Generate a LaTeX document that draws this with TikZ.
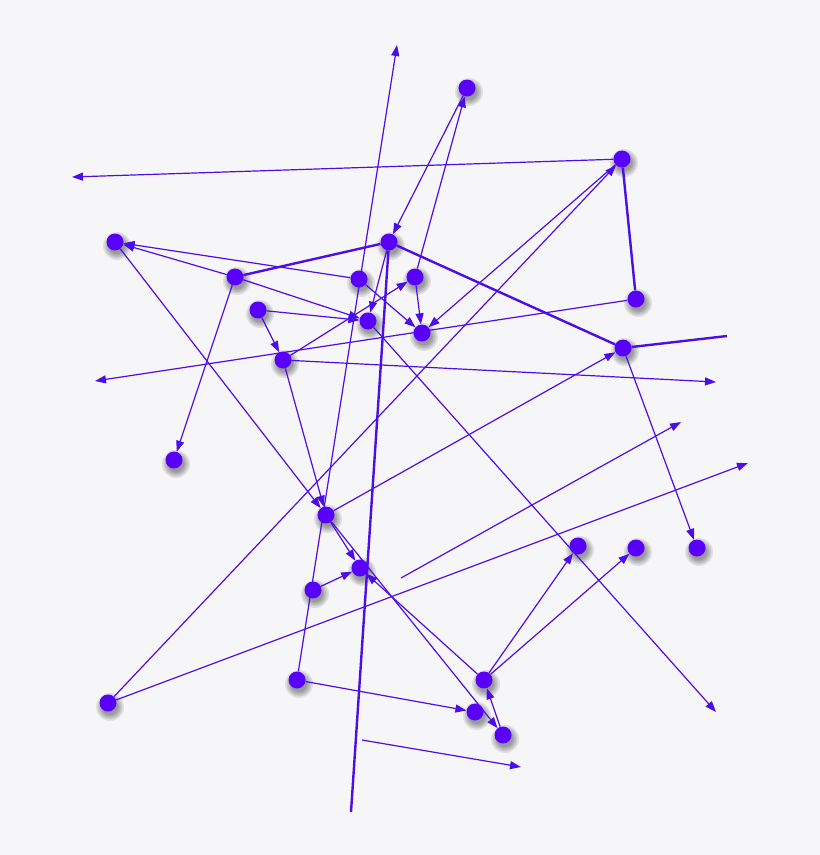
\documentclass[tikz,border=0pt]{standalone}
\usetikzlibrary{arrows.meta}
\definecolor{dotblue}{RGB}{88,0,250}
\definecolor{lineblue}{RGB}{76,14,232}
\definecolor{paper}{RGB}{246,246,248}
\pgfdeclarelayer{paperlayer}
\pgfdeclarelayer{shadowlayer}
\pgfdeclarelayer{edgelayer}
\pgfsetlayers{paperlayer,shadowlayer,edgelayer,main}
\begin{document}
\begin{tikzpicture}[x=1pt, y=-1pt, % pixel grid, y downwards
  dot/.style={circle, fill=dotblue, inner sep=0pt, minimum size=17pt},
  halo/.style={fill=black, opacity=0.085},
  link/.style={draw=lineblue, line width=1.2pt, -{Triangle[length=11pt, width=8pt]}},
  bar/.style={draw=lineblue, line width=2.4pt}]
  \begin{pgfonlayer}{paperlayer}
    \fill[paper] (0,0) rectangle (820,855);
  \end{pgfonlayer}
  \useasboundingbox (0,0) rectangle (820,855);

  % Dots, each with a soft shadow down-right
  \foreach \N/\X/\Y in {a/467/88, b/622/159, c/115/242, d/389/242, e/235/277,
      f/359/279, g/415/277, h/636/299, i/258/310, j/368/321, k/422/333,
      l/283/360, m/623/348, n/174/460, o/326/515, p/360/568, q/578/546,
      r/636/548, s/697/548, t/313/590, u/297/680, v/108/703, w/484/680,
      x/475/712, y/503/735} {
    \node[dot] (\N) at (\X,\Y) {};
    \begin{pgfonlayer}{shadowlayer}
      \foreach \R in {14,12.5,11,9.5,8} {
        \fill[halo] (\X+2,\Y+4) circle (\R);
      }
    \end{pgfonlayer}
  }

  % Loose ends
  \coordinate (west1) at (72,177);
  \coordinate (west2) at (95,381);
  \coordinate (east1) at (716,382);
  \coordinate (east2) at (748,463);
  \coordinate (east3) at (681,422);
  \coordinate (east4) at (727,336);
  \coordinate (north) at (397,45);
  \coordinate (south) at (351,812);
  \coordinate (se1) at (716,712);
  \coordinate (se2) at (521,767);
  \coordinate (free1) at (401,578);
  \coordinate (free2) at (362,740);

  \begin{pgfonlayer}{edgelayer}
    % Thick strokes, no tips
    \draw[bar] (e) -- (d) -- (m) -- (east4);
    \draw[bar] (b) -- (h);
    \draw[bar] (d) -- (south);

    % Arrows between dots
    \foreach \A/\B in {f/c, e/c, c/o, e/n, e/j, i/j, i/l, l/g, g/a, a/d,
        d/j, f/k, g/k, b/k, v/b, o/m, o/p, o/y, l/o, m/s, w/q, w/r,
        w/p, y/w, u/x, t/p} {
      \draw[link] (\A) -- (\B);
    }

    % Arrows to loose ends
    \foreach \A/\B in {b/west1, h/west2, l/east1, v/east2, u/north, j/se1,
        free1/east3, free2/se2} {
      \draw[link] (\A) -- (\B);
    }
  \end{pgfonlayer}
\end{tikzpicture}
\end{document}
